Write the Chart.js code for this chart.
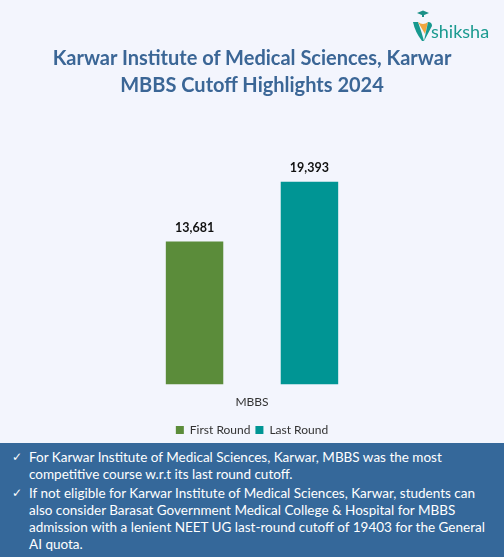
<!DOCTYPE html>
<html>
<head>
<meta charset="utf-8">
<script src="https://cdn.jsdelivr.net/npm/chart.js@4"></script>
<style>
  html, body { margin: 0; padding: 0; }
  body { width: 504px; height: 557px; background: #f3f5fd; position: relative; overflow: hidden; font-family: Lato, "Open Sans", sans-serif; }
  #title { position: absolute; top: 44px; left: 0; width: 504px; text-align: center; color: #3b6696; font-weight: bold; font-size: 20px; line-height: 27px; }
  #logo { position: absolute; top: 10px; left: 410px; }
  #chartBox { position: absolute; top: 0; left: 0; width: 504px; height: 446px; }
  #notes { position: absolute; z-index: 2; top: 443px; left: 0; width: 504px; height: 114px; background: #35689a; color: #fff; font-size: 13.5px; line-height: 17px; box-sizing: border-box; padding: 6px 10px 0 10px; }
  #notes div { position: relative; padding-left: 19px; margin-bottom: 2px; }
  #notes div::before { content: "\2713"; position: absolute; left: 2px; top: 0; font-family: "DejaVu Sans", sans-serif; font-size: 12px; }
</style>
</head>
<body>
<div id="chartBox"><canvas id="cutoffChart" width="504" height="446"></canvas></div>
<div id="title">Karwar Institute of Medical Sciences, Karwar<br>MBBS Cutoff Highlights 2024</div>
<svg id="logo" width="88" height="34" viewBox="0 0 88 34">
  <polygon points="7,3 13,0.5 19,3 13,5.5" fill="#1a8f87"/>
  <rect x="12" y="4" width="2" height="3" fill="#1a8f87"/>
  <path d="M3,12 Q5,22 12,31 L14,31 Q11,20 8,12 Z" fill="#17998f"/>
  <path d="M8,12 Q13,16 18,12 L15,24 Z" fill="#f0a640"/>
  <path d="M18,12 Q22,12 22,16 L14,31 Z" fill="#17998f"/>
  <text x="21" y="28" font-family="Lato, sans-serif" font-size="18" fill="#1b9a90">shiksha</text>
</svg>
<div id="notes">
  <div>For Karwar Institute of Medical Sciences, Karwar, MBBS was the most competitive course w.r.t its last round cutoff.</div>
  <div>If not eligible for Karwar Institute of Medical Sciences, Karwar, students can also consider Barasat Government Medical College &amp; Hospital for MBBS admission with a lenient NEET UG last-round cutoff of 19403 for the General AI quota.</div>
</div>
<script>
// data
const categories = ['MBBS'];
const seriesNames = ['First Round', 'Last Round'];
const firstRound = [13681];
const lastRound = [19393];
const barColors = ['#5b8c3a', '#009594'];

// value labels above bars
const valueLabels = {
  id: 'valueLabels',
  afterDatasetsDraw(chart) {
    const ctx = chart.ctx;
    ctx.save();
    ctx.font = 'bold 12.5px Lato, sans-serif';
    ctx.fillStyle = '#111';
    ctx.textAlign = 'center';
    ctx.textBaseline = 'bottom';
    chart.data.datasets.forEach((ds, i) => {
      chart.getDatasetMeta(i).data.forEach((bar, j) => {
        ctx.fillText(ds.data[j].toLocaleString('en-US'), bar.x, bar.y - 7);
      });
    });
    ctx.restore();
  }
};

new Chart(document.getElementById('cutoffChart'), {
  type: 'bar',
  data: {
    labels: categories,
    datasets: [
      { label: seriesNames[0], data: firstRound, backgroundColor: barColors[0] },
      { label: seriesNames[1], data: lastRound, backgroundColor: barColors[1] }
    ]
  },
  options: {
    responsive: false,
    animation: false,
    layout: { padding: { top: 123, left: 0, right: 0, bottom: 0 } },
    datasets: { bar: { categoryPercentage: 0.456, barPercentage: 0.5 } },
    scales: {
      x: {
        grid: { display: false, drawTicks: false },
        border: { display: false },
        ticks: { color: '#333', font: { size: 12, family: 'Lato, sans-serif' }, padding: 10 }
      },
      y: { display: false, min: 0, max: 25000 }
    },
    plugins: {
      legend: {
        position: 'bottom',
        labels: { boxWidth: 8, boxHeight: 8, color: '#333', font: { size: 12, family: 'Lato, sans-serif' }, padding: 5 }
      },
      tooltip: { enabled: false }
    }
  },
  plugins: [valueLabels]
});
</script>
</body>
</html>
